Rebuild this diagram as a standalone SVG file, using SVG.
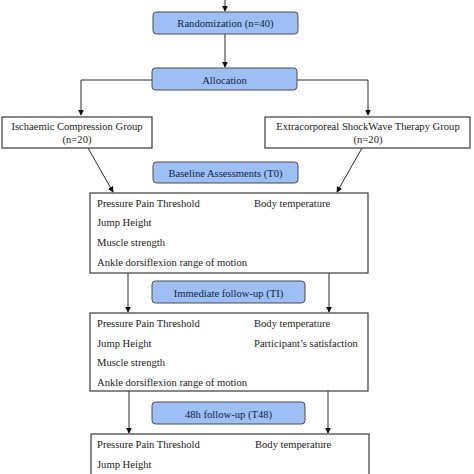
<svg xmlns="http://www.w3.org/2000/svg" width="474" height="474" viewBox="0 0 474 474">
<defs>
<style>
text{font-family:"Liberation Serif","Times New Roman",serif;font-size:10.6px;fill:#1a1a1a}
.lbl{fill:#0f1f3d;text-anchor:middle}
.blue{fill:#9dbff5;stroke:#4a4a4a;stroke-width:1}
.box{fill:#ffffff;stroke:#3a3a3a;stroke-width:1.2}
.c{fill:none;stroke:#2a2a2a;stroke-width:1}
.mid{text-anchor:middle}
</style>
<marker id="ah" viewBox="0 0 8 8" refX="7" refY="4" markerWidth="6" markerHeight="6" orient="auto" markerUnits="userSpaceOnUse">
<path d="M0,0 L8,4 L0,8 z" fill="#111"/>
</marker>
</defs>
<rect width="474" height="474" fill="#ffffff"/>
<g id="connectors">
<line class="c" x1="225" y1="0" x2="225" y2="11" marker-end="url(#ah)"/>
<line class="c" x1="225" y1="34" x2="225" y2="67" marker-end="url(#ah)"/>
<polyline class="c" points="152,80 81,80 81,115" marker-end="url(#ah)"/>
<polyline class="c" points="297,80 368,80 368,115" marker-end="url(#ah)"/>
<line class="c" x1="88" y1="148" x2="113" y2="192" marker-end="url(#ah)"/>
<line class="c" x1="362" y1="148" x2="337" y2="192" marker-end="url(#ah)"/>
<line class="c" x1="128" y1="273" x2="128" y2="312" marker-end="url(#ah)"/>
<line class="c" x1="329" y1="273" x2="329" y2="312" marker-end="url(#ah)"/>
<line class="c" x1="129" y1="391" x2="129" y2="433" marker-end="url(#ah)"/>
<line class="c" x1="328" y1="391" x2="328" y2="433" marker-end="url(#ah)"/>
</g>
<g id="randomization">
<rect class="blue" x="153" y="12" width="145" height="22" rx="3.5"/>
<text class="lbl" x="225.5" y="27">Randomization (n=40)</text>
</g>
<g id="allocation">
<rect class="blue" x="152" y="68" width="145" height="22" rx="3.5"/>
<text class="lbl" x="224.5" y="83.5">Allocation</text>
</g>
<g id="ic-group">
<rect class="box" x="2" y="117" width="150" height="31"/>
<text class="mid" x="77" y="130">Ischaemic Compression Group</text>
<text class="mid" x="77" y="143">(n=20)</text>
</g>
<g id="eswt-group">
<rect class="box" x="265" y="117" width="205" height="31"/>
<text class="mid" x="368" y="130">Extracorporeal ShockWave Therapy Group</text>
<text class="mid" x="368" y="143">(n=20)</text>
</g>
<g id="t0-label">
<rect class="blue" x="153" y="162" width="145" height="21" rx="3.5"/>
<text class="lbl" x="225.5" y="176.5">Baseline Assessments (T0)</text>
</g>
<g id="t0-box">
<rect class="box" x="90" y="193" width="278" height="80"/>
<text x="97" y="207">Pressure Pain Threshold</text>
<text x="254" y="207">Body temperature</text>
<text x="97" y="226">Jump Height</text>
<text x="97" y="246">Muscle strength</text>
<text x="97" y="266">Ankle dorsiflexion range of motion</text>
</g>
<g id="ti-label">
<rect class="blue" x="152" y="281" width="153" height="22" rx="3.5"/>
<text class="lbl" x="228.5" y="296.5">Immediate follow-up (TI)</text>
</g>
<g id="ti-box">
<rect class="box" x="90" y="313" width="278" height="78"/>
<text x="97" y="327">Pressure Pain Threshold</text>
<text x="254" y="327">Body temperature</text>
<text x="97" y="347">Jump Height</text>
<text x="254" y="347">Participant’s satisfaction</text>
<text x="97" y="366">Muscle strength</text>
<text x="97" y="386">Ankle dorsiflexion range of motion</text>
</g>
<g id="t48-label">
<rect class="blue" x="152" y="402" width="153" height="22" rx="3.5"/>
<text class="lbl" x="228.5" y="417.5">48h follow-up (T48)</text>
</g>
<g id="t48-box">
<rect class="box" x="91" y="434" width="278" height="50"/>
<text x="97" y="448">Pressure Pain Threshold</text>
<text x="255" y="448">Body temperature</text>
<text x="97" y="468">Jump Height</text>
</g>
</svg>
